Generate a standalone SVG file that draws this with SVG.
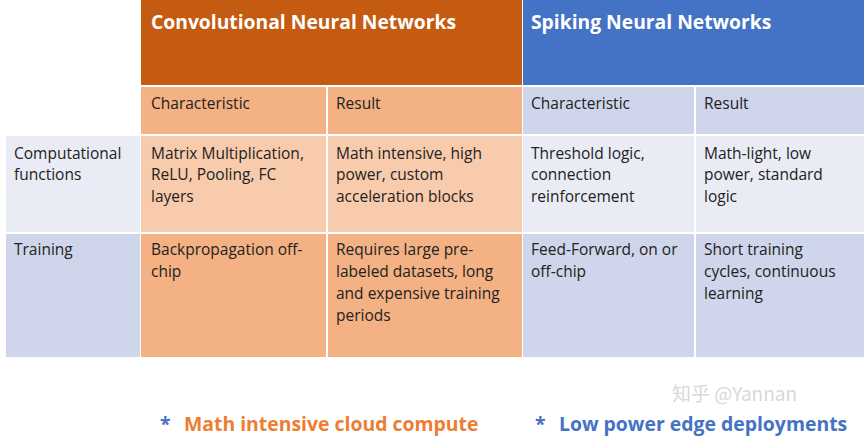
<svg xmlns="http://www.w3.org/2000/svg" width="864" height="443" viewBox="0 0 864 443">
<style>
text{font-family:"Open Sans","Liberation Sans",sans-serif;font-size:15.5px;fill:#222}
.h{font-size:19.3px;font-weight:bold;fill:#fff}
.b{font-size:19.4px;font-weight:bold}
</style>
<rect width="864" height="443" fill="#fff"/>
<g id="header-cnn"><rect x="141" y="0" width="381" height="85" fill="#C55A11"/><text class="h" x="151" y="29">Convolutional Neural Networks</text></g>
<g id="header-snn"><rect x="523" y="0" width="341" height="85" fill="#4472C4"/><text class="h" x="531" y="29">Spiking Neural Networks</text></g>
<g id="row-sub">
<rect x="141" y="87" width="185" height="47" fill="#F4B183"/><text x="151" y="109">Characteristic</text>
<rect x="328" y="87" width="194" height="47" fill="#F4B183"/><text x="336" y="109">Result</text>
<rect x="523" y="87" width="171" height="47" fill="#CFD5EA"/><text x="531" y="109">Characteristic</text>
<rect x="696" y="87" width="168" height="47" fill="#CFD5EA"/><text x="704" y="109">Result</text>
</g>
<g id="row-comp">
<rect x="6" y="136" width="134" height="96" fill="#E9EBF5"/><text x="14" y="159">Computational</text><text x="14" y="180">functions</text>
<rect x="141" y="136" width="185" height="96" fill="#F8CBAD"/><text x="151" y="159">Matrix Multiplication,</text><text x="151" y="180">ReLU, Pooling, FC</text><text x="151" y="202">layers</text>
<rect x="328" y="136" width="194" height="96" fill="#F8CBAD"/><text x="336" y="159">Math intensive, high</text><text x="336" y="180">power, custom</text><text x="336" y="202">acceleration blocks</text>
<rect x="523" y="136" width="171" height="96" fill="#E9EBF5"/><text x="531" y="159">Threshold logic,</text><text x="531" y="180">connection</text><text x="531" y="202">reinforcement</text>
<rect x="696" y="136" width="168" height="96" fill="#E9EBF5"/><text x="704" y="159">Math-light, low</text><text x="704" y="180">power, standard</text><text x="704" y="202">logic</text>
</g>
<g id="row-train">
<rect x="6" y="234" width="134" height="123" fill="#CFD5EA"/><text x="14" y="255">Training</text>
<rect x="141" y="234" width="185" height="123" fill="#F4B183"/><text x="151" y="255">Backpropagation off-</text><text x="151" y="277">chip</text>
<rect x="328" y="234" width="194" height="123" fill="#F4B183"/><text x="336" y="255">Requires large pre-</text><text x="336" y="277">labeled datasets, long</text><text x="336" y="299">and expensive training</text><text x="336" y="321">periods</text>
<rect x="523" y="234" width="171" height="123" fill="#CFD5EA"/><text x="531" y="255">Feed-Forward, on or</text><text x="531" y="277">off-chip</text>
<rect x="696" y="234" width="168" height="123" fill="#CFD5EA"/><text x="704" y="255">Short training</text><text x="704" y="277">cycles, continuous</text><text x="704" y="299">learning</text>
</g>
<g id="notes">
<text class="b" x="160" y="431" style="fill:#4472C4">*</text><text class="b" x="184" y="431" style="fill:#ED7D31">Math intensive cloud compute</text>
<text class="b" x="535" y="431" style="fill:#4472C4">*</text><text class="b" x="559" y="431" style="fill:#4472C4">Low power edge deployments</text>
<text x="672" y="401" style="font-family:'Noto Sans CJK SC','Open Sans',sans-serif;font-size:19px;fill:#d8d8d8">知乎 @Yannan</text>
</g>
</svg>
